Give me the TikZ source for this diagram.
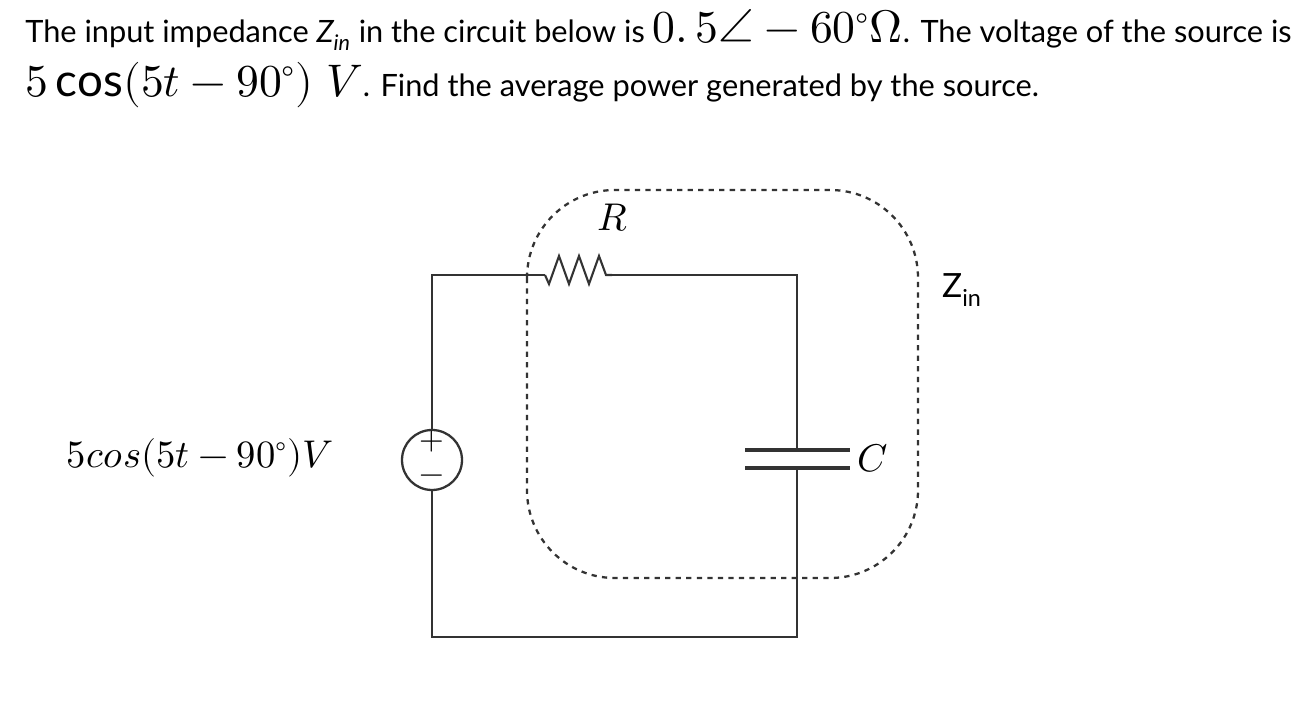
\documentclass[tikz,border=0pt]{standalone}
\usepackage{fontspec}
\setmainfont{Lato}
\usepackage{unicode-math}
\begin{document}
\begin{tikzpicture}[x=0.02cm,y=-0.02cm,
  wire/.style={line width=0.9pt,black!80},
  txt/.style={font=\fontsize{17.5}{20}\selectfont, anchor=west, inner sep=0},
  ctxt/.style={font=\fontsize{22}{26}\selectfont\rmfamily},
  sign/.style={font=\fontsize{18}{20}\selectfont\rmfamily, inner sep=0}]
\useasboundingbox (0,0) rectangle (1296,719);
\node[txt] (l1) at (25,30) {The input impedance \textit{Z\textsubscript{in}} in the circuit below is {\fontsize{26}{28}\selectfont$0.\,5\angle-60^{\circ}\mitOmega$}. The voltage of the source is};
\node[txt] (l2) at (25,85) {{\fontsize{26}{28}\selectfont$5\cos(5t-90^{\circ})\;V$}. Find the average power generated by the source.};
\coordinate (tl) at (432,275); \coordinate (tr) at (797,275);
\coordinate (bl) at (432,637); \coordinate (br) at (797,637);
\coordinate (r1) at (545,275); \coordinate (r2) at (612,275);
\coordinate (c1) at (797,450); \coordinate (c2) at (797,468);
\node[draw, circle, wire, line width=1.3pt, minimum size=1.2cm, inner sep=0] (src) at (432,460) {};
\node[sign] (plus) at (432,442) {$+$};
\node[sign] (minus) at (432,479) {$-$};
\draw[wire] (src.north) -- (tl) -- (r1);
\draw[wire,line width=1.2pt] (r1) -- (549,284) -- (559,256) -- (569,284) -- (579,256) -- (589,284) -- (599,256) -- (606,275) -- (r2);
\draw[wire] (r2) -- (tr) -- (c1);
\draw[wire,line width=2.2pt] (745,450) -- (850,450);
\draw[wire,line width=2.2pt] (745,468) -- (850,468);
\draw[wire] (c2) -- (br) -- (bl) -- (src.south);
\draw[wire, line width=1.3pt, dashed, rounded corners=50] (527,190) rectangle (918,578);
\node[ctxt] (R) at (613,218) {$R$};
\node[ctxt] (C) at (873,458) {$C$};
\node[ctxt] (vs) at (200,458) {$5cos(5t-90^{\circ})V$};
\node[font=\fontsize{19}{22}\selectfont] (Z) at (962,290) {Z\textsubscript{in}};
\end{tikzpicture}
\end{document}
